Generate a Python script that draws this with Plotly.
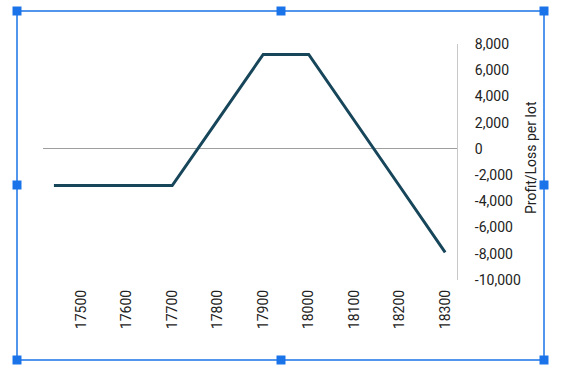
import plotly.graph_objects as go

# Data
strikes = [17440, 17500, 17600, 17700, 17800, 17900, 18000, 18100, 18200, 18300]
pnl = [-2800, -2800, -2800, -2800, 2200, 7200, 7200, 2200, -2850, -7900]
x_ticks = [17500, 17600, 17700, 17800, 17900, 18000, 18100, 18200, 18300]
x_ticktext = ["17500", "17600", "17700", "17800", "17900", "18000", "18100", "18200", "18300"]
y_ticks = [8000, 6000, 4000, 2000, 0, -2000, -4000, -6000, -8000, -10000]
y_ticktext = ["8,000", "6,000", "4,000", "2,000", "0", "-2,000", "-4,000", "-6,000", "-8,000", "-10,000"]
y_title = "Profit/Loss per lot"

W, H = 566, 368
L, R, T, B = 43, 109, 44, 88
PW, PH = W - L - R, H - T - B

def px(x):
    return (x - L) / PW

def py(y):
    return (H - B - y) / PH

fig = go.Figure()
fig.add_trace(go.Scatter(x=strikes, y=pnl, mode="lines",
                         line=dict(color="#17465b", width=3), hoverinfo="skip"))

blue = "#1a73e8"
shapes = [dict(type="rect", xref="paper", yref="paper",
               x0=px(17), x1=px(544), y0=py(360), y1=py(11),
               line=dict(color=blue, width=1.5), fillcolor="rgba(0,0,0,0)", layer="above")]
for cx, cy in [(17, 11), (281, 11), (544, 11), (17, 185), (544, 185), (17, 360), (281, 360), (544, 360)]:
    shapes.append(dict(type="rect", xref="paper", yref="paper",
                       x0=px(cx - 4.5), x1=px(cx + 4.5), y0=py(cy + 4.5), y1=py(cy - 4.5),
                       line=dict(width=0), fillcolor=blue, layer="above"))

fig.update_layout(
    width=W, height=H,
    margin=dict(l=L, r=R, t=T, b=B, pad=0),
    paper_bgcolor="white", plot_bgcolor="white",
    showlegend=False,
    font=dict(family="Roboto, Arial, sans-serif", size=14, color="#222222"),
    shapes=shapes,
    xaxis=dict(range=[17416, 18326], tickvals=x_ticks, ticktext=x_ticktext, tickangle=-90,
               showgrid=False, zeroline=False, showline=False, ticks="",
               ticklabelstandoff=6, tickfont=dict(size=14, color="#222222")),
    yaxis=dict(range=[-10000, 8000], side="right", tickvals=y_ticks, ticktext=y_ticktext,
               showgrid=False, zeroline=True, zerolinecolor="#9e9e9e", zerolinewidth=1,
               showline=True, linecolor="#c8c8c8", linewidth=1, ticks="",
               ticklabelstandoff=14, tickfont=dict(size=14, color="#222222")),
    annotations=[dict(text=y_title, xref="paper", yref="paper", x=px(531), y=py(158),
                      xanchor="center", yanchor="middle", textangle=-90, showarrow=False,
                      font=dict(size=14, color="#222222"))],
)

fig.write_html("out.html")
